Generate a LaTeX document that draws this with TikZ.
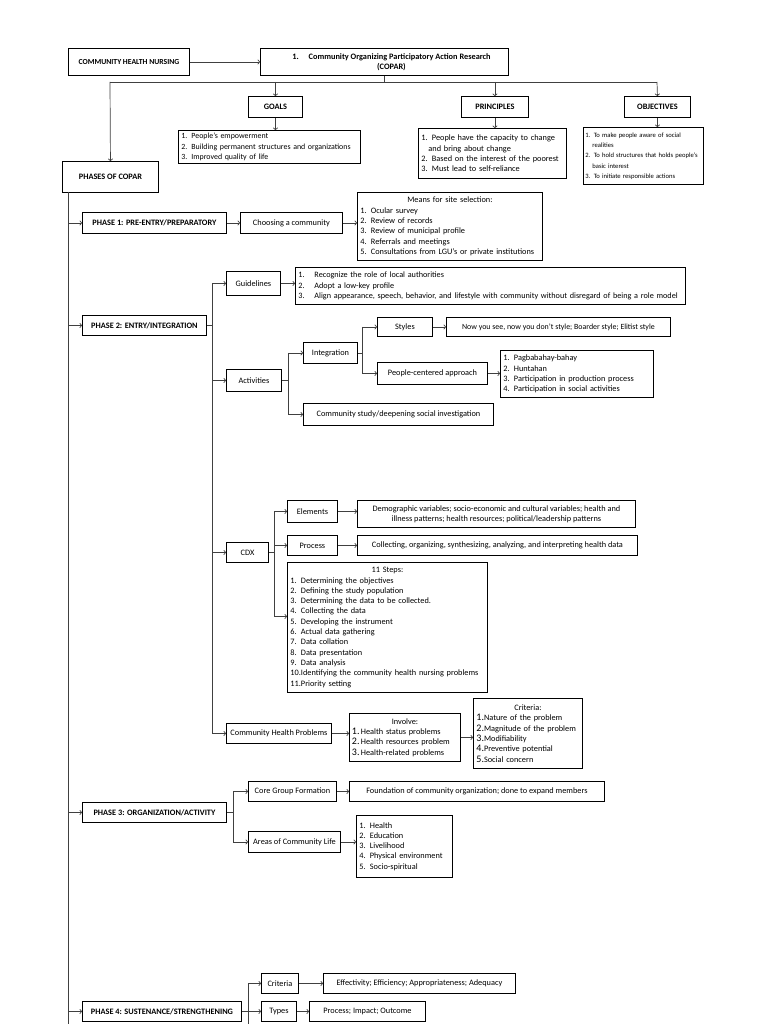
\documentclass[tikz,border=0pt]{standalone}
\usepackage{fontspec}
\setmainfont{Carlito}
\usetikzlibrary{arrows.meta}
\newcommand\fsz[1]{\fontsize{#1}{10.3}\selectfont}
\newcommand\bn[1]{{\fontsize{10}{10.3}\selectfont #1}}
\newcommand\ctr[1]{\makebox[\linewidth][c]{#1}}
\begin{document}
\begin{tikzpicture}[x=1pt,y=-1pt,
  box/.style={draw=black, line width=0.9pt, inner xsep=3pt, inner ysep=1pt, font=\fsz{8.3}, anchor=north west, align=center},
  bbox/.style={box, font=\fsz{8.3}\bfseries},
  lbox/.style={box, align=left},
  conn/.style={draw=black!75, line width=0.7pt, -{To[length=2.5pt,width=5pt]}},
  wire/.style={draw=black!75, line width=0.7pt}]
\fill[white] (0,0) rectangle (768,1024);
\useasboundingbox (0,0) rectangle (768,1024);

% top
\node[bbox, font=\fsz{7.7}\bfseries, minimum width=121pt, minimum height=27pt] (chn) at (68,48) {COMMUNITY HEALTH NURSING};
\node[bbox, minimum width=248pt, minimum height=27pt] (copar) at (260,48) {\hspace*{14pt}1.\hspace{10pt}Community Organizing Participatory Action Research\\\hspace*{14pt}(COPAR)};
\draw[conn] (chn) -- (copar);

\node[bbox, minimum width=54pt, minimum height=21pt] (goals) at (248,96) {GOALS};
\node[bbox, minimum width=67pt, minimum height=21pt] (princ) at (461,96) {PRINCIPLES};
\node[bbox, minimum width=66pt, minimum height=21pt] (obj) at (624,96) {OBJECTIVES};
\node[bbox, minimum width=96pt, minimum height=31pt] (phases) at (62,161) {PHASES OF COPAR};

\coordinate (tl) at (110,82);
\coordinate (tr) at (657,82);
\draw[wire] (copar.south) -- (copar.south |- tl);
\draw[wire] (tl) -- (tr);
\draw[conn] (tl) -- (phases.north);
\draw[conn] (goals.north |- tl) -- (goals.north);
\draw[conn] (princ.north |- tl) -- (princ.north);
\draw[conn] (tr) -- (obj.north);

\node[lbox, font=\fsz{7.9}, text width=176pt, minimum height=33pt] (glist) at (178,130) {1. People's empowerment\\2. Building permanent structures and organizations\\3. Improved quality of life};
\node[lbox, text width=142pt, minimum height=50pt] (plist) at (418,128) {1. People have the capacity to change\\\hspace*{7pt}and bring about change\\2. Based on the interest of the poorest\\3. Must lead to self-reliance};
\node[lbox, font=\fsz{6.6}, inner xsep=2pt, text width=116pt, minimum height=57pt] (olist) at (583,127) {1. To make people aware of social\\\hspace*{7pt}realities\\2. To hold structures that holds people's\\\hspace*{7pt}basic interest\\3. To initiate responsible actions};
\draw[conn] (goals.south) -- (goals.south |- glist.north);
\draw[conn] (princ.south) -- (princ.south |- plist.north);
\draw[conn] (obj.south) -- (obj.south |- olist.north);

% spine
\coordinate (sp0) at (68,192);
\coordinate (sp1) at (68,1024);
\draw[wire] (sp0) -- (sp1);

% phase 1
\node[bbox, minimum width=144pt, minimum height=21pt] (p1) at (82,212) {PHASE 1: PRE-ENTRY/PREPARATORY};
\node[box, minimum width=102pt, minimum height=21pt] (choose) at (240,212) {Choosing a community};
\node[lbox, text width=179pt, minimum height=68pt] (means) at (357,192) {\ctr{Means for site selection:}\\1. Ocular survey\\2. Review of records\\3. Review of municipal profile\\4. Referrals and meetings\\5. Consultations from LGU's or private institutions};
\draw[conn] (sp0 |- p1.west) -- (p1.west);
\draw[conn] (p1) -- (choose);
\draw[conn] (choose.east) -- (choose.east -| means.west);

% phase 2
\node[bbox, minimum width=124pt, minimum height=20pt] (p2) at (82,315) {PHASE 2: ENTRY/INTEGRATION};
\draw[conn] (sp0 |- p2.west) -- (p2.west);
\coordinate (b2) at (212,0);
\node[box, minimum width=54pt, minimum height=24pt] (guide) at (226,271) {Guidelines};
\node[lbox, font=\fsz{8.2}, text width=384pt, minimum height=37pt] (glines) at (295,267) {\makebox[16pt][l]{1.}Recognize the role of local authorities\\\makebox[16pt][l]{2.}Adopt a low-key profile\\\makebox[16pt][l]{3.}Align appearance, speech, behavior, and lifestyle with community without disregard of being a role model};
\node[box, minimum width=55pt, minimum height=22pt] (act) at (226,369) {Activities};
\node[box, minimum width=42pt, minimum height=20pt] (cdx) at (226,542) {CDX};
\node[box, minimum width=105pt, minimum height=20pt] (chp) at (226,723) {Community Health Problems};
\draw[wire] (p2.east) -- (p2.east -| b2);
\draw[wire] (b2 |- guide.west) -- (b2 |- chp.west);
\draw[conn] (b2 |- guide.west) -- (guide.west);
\draw[conn] (b2 |- act.west) -- (act.west);
\draw[conn] (b2 |- cdx.west) -- (cdx.west);
\draw[conn] (b2 |- chp.west) -- (chp.west);
\draw[conn] (guide.east) -- (guide.east -| glines.west);

% activities
\coordinate (b3) at (288,0);
\node[box, minimum width=54pt, minimum height=21pt] (integ) at (303,342) {Integration};
\node[box, minimum width=190pt, minimum height=22pt] (cstudy) at (303,403) {Community study/deepening social investigation};
\draw[wire] (act.east) -- (act.east -| b3);
\draw[wire] (b3 |- integ.west) -- (b3 |- cstudy.west);
\draw[conn] (b3 |- integ.west) -- (integ.west);
\draw[conn] (b3 |- cstudy.west) -- (cstudy.west);

\coordinate (b4) at (362,0);
\node[box, minimum width=55pt, minimum height=19pt] (styles) at (377,317) {Styles};
\node[box, font=\fsz{7.9}, minimum width=224pt, minimum height=19pt] (sdesc) at (446,317) {Now you see, now you don't style; Boarder style; Elitist style};
\node[box, minimum width=110pt, minimum height=22pt] (people) at (377,362) {People-centered approach};
\node[lbox, text width=147pt, minimum height=47pt] (plist2) at (500,350) {1. Pagbabahay-bahay\\2. Huntahan\\3. Participation in production process\\4. Participation in social activities};
\draw[wire] (integ.east) -- (integ.east -| b4);
\draw[wire] (b4 |- styles.west) -- (b4 |- people.west);
\draw[conn] (b4 |- styles.west) -- (styles.west);
\draw[conn] (b4 |- people.west) -- (people.west);
\draw[conn] (styles) -- (sdesc);
\draw[conn] (people.east) -- (people.east -| plist2.west);

% CDX
\coordinate (b5) at (274,0);
\node[box, minimum width=50pt, minimum height=22pt] (elem) at (287,500) {Elements};
\node[box, minimum width=278pt, minimum height=27pt] (edesc) at (357,500) {Demographic variables; socio-economic and cultural variables; health and\\illness patterns; health resources; political/leadership patterns};
\node[box, minimum width=50pt, minimum height=20pt] (proc) at (287,535) {Process};
\node[box, minimum width=280pt, minimum height=20pt] (pdesc) at (357,535) {Collecting, organizing, synthesizing, analyzing, and interpreting health data};
\node[lbox, text width=194pt, minimum height=130pt] (steps) at (287,562) {\ctr{11 Steps:}\\1. Determining the objectives\\2. Defining the study population\\3. Determining the data to be collected.\\4. Collecting the data\\5. Developing the instrument\\6. Actual data gathering\\7. Data collation\\8. Data presentation\\9. Data analysis\\10.Identifying the community health nursing problems\\11.Priority setting};
\coordinate (stp) at ([yshift=11pt]steps.west);
\draw[wire] (cdx.east) -- (cdx.east -| b5);
\draw[wire] (b5 |- elem.west) -- (b5 |- stp);
\draw[conn] (b5 |- elem.west) -- (elem.west);
\draw[conn] (b5 |- proc.west) -- (proc.west);
\draw[conn] (b5 |- stp) -- (stp);
\draw[conn] (elem.east) -- (elem.east -| edesc.west);
\draw[conn] (proc) -- (pdesc);

% CHP
\node[lbox, inner xsep=2.5pt, text width=106pt, minimum height=48pt] (inv) at (349,713) {\ctr{Involve:}\\\bn{1.}\,Health status problems\\\bn{2.}\,Health resources problem\\\bn{3.}\,Health-related problems};
\node[lbox, text width=103pt, minimum height=70pt] (crit) at (473,698) {\ctr{Criteria:}\\\bn{1.}Nature of the problem\\\bn{2.}Magnitude of the problem\\\bn{3.}Modifiability\\\bn{4.}Preventive potential\\\bn{5.}Social concern};
\draw[conn] (chp.east) -- (chp.east -| inv.west);
\draw[conn] (inv.east) -- (inv.east -| crit.west);

% phase 3
\node[bbox, minimum width=144pt, minimum height=20pt] (p3) at (82,802) {PHASE 3: ORGANIZATION/ACTIVITY};
\draw[conn] (sp0 |- p3.west) -- (p3.west);
\coordinate (b6) at (233,0);
\node[box, minimum width=88pt, minimum height=20pt] (core) at (248,781) {Core Group Formation};
\node[box, minimum width=255pt, minimum height=20pt] (found) at (349,781) {Foundation of community organization; done to expand members};
\node[box, minimum width=92pt, minimum height=21pt] (areas) at (248,831) {Areas of Community Life};
\node[lbox, text width=90pt, minimum height=62pt] (alist) at (356,815) {1. Health\\2. Education\\3. Livelihood\\4. Physical environment\\5. Socio-spiritual};
\draw[wire] (p3.east) -- (p3.east -| b6);
\draw[wire] (b6 |- core.west) -- (b6 |- areas.west);
\draw[conn] (b6 |- core.west) -- (core.west);
\draw[conn] (b6 |- areas.west) -- (areas.west);
\draw[conn] (core) -- (found);
\draw[conn] (areas.east) -- (areas.east -| alist.west);

% phase 4
\node[bbox, minimum width=159pt, minimum height=20pt] (p4) at (82,1001) {PHASE 4: SUSTENANCE/STRENGTHENING};
\draw[conn] (sp0 |- p4.west) -- (p4.west);
\coordinate (b7) at (248,1024);
\node[box, minimum width=37pt, minimum height=20pt] (crit4) at (261,973) {Criteria};
\node[box, minimum width=192pt, minimum height=20pt] (c4desc) at (323,973) {Effectivity; Efficiency; Appropriateness; Adequacy};
\node[box, minimum width=35pt, minimum height=20pt] (types) at (261,1001) {Types};
\node[box, minimum width=116pt, minimum height=20pt] (tdesc) at (309,1001) {Process; Impact; Outcome};
\draw[wire] (b7 |- crit4.west) -- (b7);
\draw[conn] (b7 |- crit4.west) -- (crit4.west);
\draw[conn] (p4) -- (types);
\draw[conn] (crit4) -- (c4desc);
\draw[conn] (types) -- (tdesc);
\end{tikzpicture}
\end{document}
